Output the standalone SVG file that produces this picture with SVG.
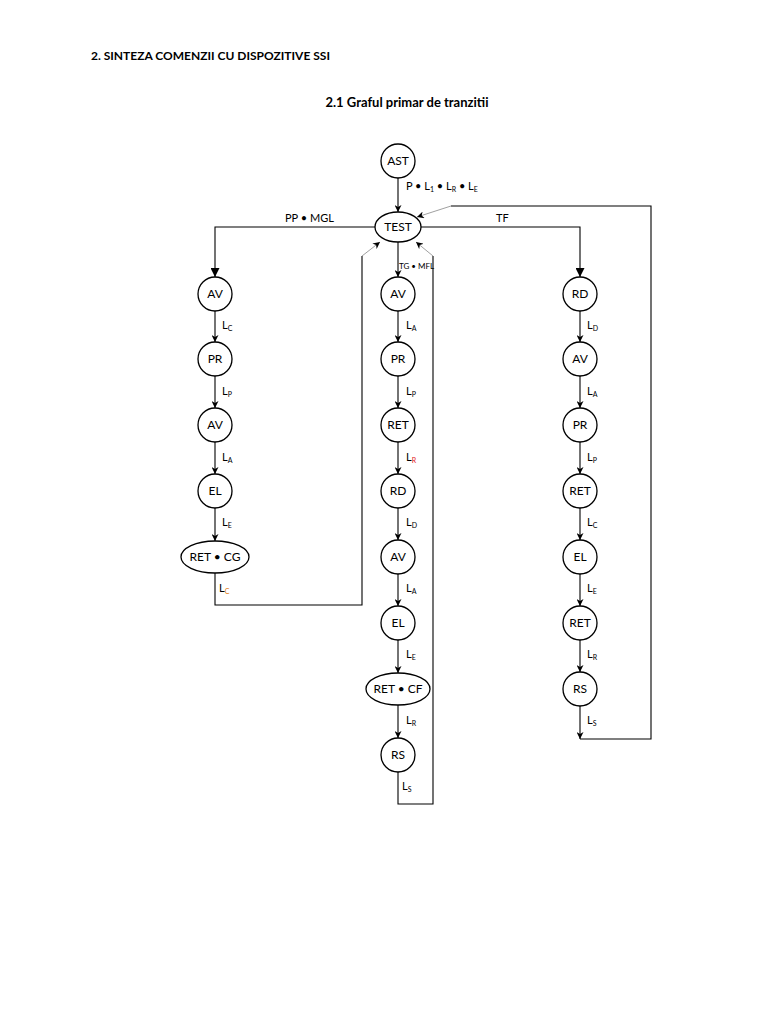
<svg xmlns="http://www.w3.org/2000/svg" width="768" height="1024" viewBox="0 0 768 1024">
<style>
.n{fill:#fff;stroke:#000;stroke-width:1.3}
.t{font-family:Lato,"Open Sans",sans-serif;font-size:12px;text-anchor:middle;fill:#000}
.l{font-family:Lato,"Open Sans",sans-serif;font-size:11px;fill:#000}
.s{font-size:7px}
.c{fill:none;stroke:#000;stroke-width:1.1}
.g{fill:none;stroke:#888;stroke-width:0.8}
.h{font-family:Lato,"Open Sans",sans-serif;font-size:12px;font-weight:bold;fill:#000}
</style>
<defs>
<marker id="a" viewBox="0 0 10 10" refX="10" refY="5" markerWidth="7" markerHeight="7" orient="auto" markerUnits="userSpaceOnUse">
<path d="M0,0 L10,5 L0,10 L3,5 Z" fill="#000"/>
</marker>
<marker id="b" viewBox="0 0 10 10" refX="10" refY="5" markerWidth="9" markerHeight="9" orient="auto" markerUnits="userSpaceOnUse">
<path d="M0,0 L10,5 L0,10 Z" fill="#000"/>
</marker>
</defs>
<rect width="768" height="1024" fill="#fff"/>
<text class="h" x="91" y="60">2. SINTEZA COMENZII CU DISPOZITIVE SSI</text>
<text class="h" x="407" y="107" text-anchor="middle" style="font-size:13px">2.1 Graful primar de tranzitii</text>

<g id="connectors">
<line class="c" x1="398" y1="178" x2="398" y2="212" marker-end="url(#a)"/>
<polyline class="c" points="375,227 215,227 215,277" marker-end="url(#b)"/>
<polyline class="c" points="421,227 580,227 580,277" marker-end="url(#b)"/>
<line class="c" x1="398" y1="242" x2="398" y2="277" marker-end="url(#a)"/>
<line class="c" x1="215" y1="311" x2="215" y2="342" marker-end="url(#a)"/>
<line class="c" x1="215" y1="376" x2="215" y2="408" marker-end="url(#a)"/>
<line class="c" x1="215" y1="442" x2="215" y2="474" marker-end="url(#a)"/>
<line class="c" x1="215" y1="508" x2="215" y2="541" marker-end="url(#a)"/>
<polyline class="c" points="215,573 215,605 362,605 362,256"/>
<line class="g" x1="362" y1="256" x2="380" y2="242" marker-end="url(#a)"/>
<line class="c" x1="398" y1="311" x2="398" y2="342" marker-end="url(#a)"/>
<line class="c" x1="398" y1="376" x2="398" y2="408" marker-end="url(#a)"/>
<line class="c" x1="398" y1="442" x2="398" y2="474" marker-end="url(#a)"/>
<line class="c" x1="398" y1="508" x2="398" y2="540" marker-end="url(#a)"/>
<line class="c" x1="398" y1="574" x2="398" y2="606" marker-end="url(#a)"/>
<line class="c" x1="398" y1="640" x2="398" y2="673" marker-end="url(#a)"/>
<line class="c" x1="398" y1="705" x2="398" y2="738" marker-end="url(#a)"/>
<polyline class="c" points="398,772 398,804 433,804 433,256"/>
<line class="g" x1="433" y1="256" x2="416" y2="242" marker-end="url(#a)"/>
<line class="c" x1="580" y1="311" x2="580" y2="342" marker-end="url(#a)"/>
<line class="c" x1="580" y1="376" x2="580" y2="408" marker-end="url(#a)"/>
<line class="c" x1="580" y1="442" x2="580" y2="474" marker-end="url(#a)"/>
<line class="c" x1="580" y1="508" x2="580" y2="540" marker-end="url(#a)"/>
<line class="c" x1="580" y1="574" x2="580" y2="606" marker-end="url(#a)"/>
<line class="c" x1="580" y1="640" x2="580" y2="672" marker-end="url(#a)"/>
<line class="c" x1="580" y1="706" x2="580" y2="739" marker-end="url(#a)"/>
<polyline class="c" points="580,739 651,739 651,206 451,206"/>
<line class="g" x1="451" y1="206" x2="417" y2="217" marker-end="url(#a)"/>
</g>

<g id="labels">
<text class="l" x="406" y="190">P • L<tspan class="s" dy="2">1</tspan><tspan dy="-2"> • L</tspan><tspan class="s" dy="2">R</tspan><tspan dy="-2"> • L</tspan><tspan class="s" dy="2">E</tspan></text>
<text class="l" x="285" y="222">PP • MGL</text>
<text class="l" x="496" y="222">TF</text>
<text class="l" x="399" y="269" style="font-size:8px">TG • MFL</text>
<text class="l" x="222" y="329">L<tspan class="s" dy="2">C</tspan></text>
<text class="l" x="222" y="395">L<tspan class="s" dy="2">P</tspan></text>
<text class="l" x="222" y="461">L<tspan class="s" dy="2">A</tspan></text>
<text class="l" x="222" y="526">L<tspan class="s" dy="2">E</tspan></text>
<text class="l" x="219" y="592">L<tspan class="s" dy="2" fill="#e07a10">C</tspan></text>
<text class="l" x="406" y="329">L<tspan class="s" dy="2">A</tspan></text>
<text class="l" x="406" y="395">L<tspan class="s" dy="2">P</tspan></text>
<text class="l" x="406" y="461">L<tspan class="s" dy="2" fill="#e02020">R</tspan></text>
<text class="l" x="406" y="526">L<tspan class="s" dy="2">D</tspan></text>
<text class="l" x="406" y="592">L<tspan class="s" dy="2">A</tspan></text>
<text class="l" x="406" y="658">L<tspan class="s" dy="2">E</tspan></text>
<text class="l" x="406" y="724">L<tspan class="s" dy="2">R</tspan></text>
<text class="l" x="402" y="790">L<tspan class="s" dy="2">S</tspan></text>
<text class="l" x="587" y="329">L<tspan class="s" dy="2">D</tspan></text>
<text class="l" x="587" y="395">L<tspan class="s" dy="2">A</tspan></text>
<text class="l" x="587" y="461">L<tspan class="s" dy="2">P</tspan></text>
<text class="l" x="587" y="526">L<tspan class="s" dy="2">C</tspan></text>
<text class="l" x="587" y="592">L<tspan class="s" dy="2">E</tspan></text>
<text class="l" x="587" y="658">L<tspan class="s" dy="2">R</tspan></text>
<text class="l" x="587" y="724">L<tspan class="s" dy="2">S</tspan></text>
</g>

<g id="AST"><circle class="n" cx="398" cy="161" r="17"/><text class="t" x="398" y="165">AST</text></g>
<g id="TEST"><ellipse class="n" cx="398" cy="227" rx="23" ry="15"/><text class="t" x="398" y="231">TEST</text></g>

<g id="L_AV1"><circle class="n" cx="215" cy="294" r="17"/><text class="t" x="215" y="298">AV</text></g>
<g id="L_PR"><circle class="n" cx="215" cy="359" r="17"/><text class="t" x="215" y="363">PR</text></g>
<g id="L_AV2"><circle class="n" cx="215" cy="425" r="17"/><text class="t" x="215" y="429">AV</text></g>
<g id="L_EL"><circle class="n" cx="215" cy="491" r="17"/><text class="t" x="215" y="495">EL</text></g>
<g id="L_RETCG"><ellipse class="n" cx="215" cy="557" rx="34" ry="16"/><text class="t" x="215" y="561">RET • CG</text></g>

<g id="M_AV1"><circle class="n" cx="398" cy="294" r="17"/><text class="t" x="398" y="298">AV</text></g>
<g id="M_PR"><circle class="n" cx="398" cy="359" r="17"/><text class="t" x="398" y="363">PR</text></g>
<g id="M_RET"><circle class="n" cx="398" cy="425" r="17"/><text class="t" x="398" y="429">RET</text></g>
<g id="M_RD"><circle class="n" cx="398" cy="491" r="17"/><text class="t" x="398" y="495">RD</text></g>
<g id="M_AV2"><circle class="n" cx="398" cy="557" r="17"/><text class="t" x="398" y="561">AV</text></g>
<g id="M_EL"><circle class="n" cx="398" cy="623" r="17"/><text class="t" x="398" y="627">EL</text></g>
<g id="M_RETCF"><ellipse class="n" cx="398" cy="689" rx="32" ry="16"/><text class="t" x="398" y="693">RET • CF</text></g>
<g id="M_RS"><circle class="n" cx="398" cy="755" r="17"/><text class="t" x="398" y="759">RS</text></g>

<g id="R_RD"><circle class="n" cx="580" cy="294" r="17"/><text class="t" x="580" y="298">RD</text></g>
<g id="R_AV"><circle class="n" cx="580" cy="359" r="17"/><text class="t" x="580" y="363">AV</text></g>
<g id="R_PR"><circle class="n" cx="580" cy="425" r="17"/><text class="t" x="580" y="429">PR</text></g>
<g id="R_RET1"><circle class="n" cx="580" cy="491" r="17"/><text class="t" x="580" y="495">RET</text></g>
<g id="R_EL"><circle class="n" cx="580" cy="557" r="17"/><text class="t" x="580" y="561">EL</text></g>
<g id="R_RET2"><circle class="n" cx="580" cy="623" r="17"/><text class="t" x="580" y="627">RET</text></g>
<g id="R_RS"><circle class="n" cx="580" cy="689" r="17"/><text class="t" x="580" y="693">RS</text></g>
</svg>
